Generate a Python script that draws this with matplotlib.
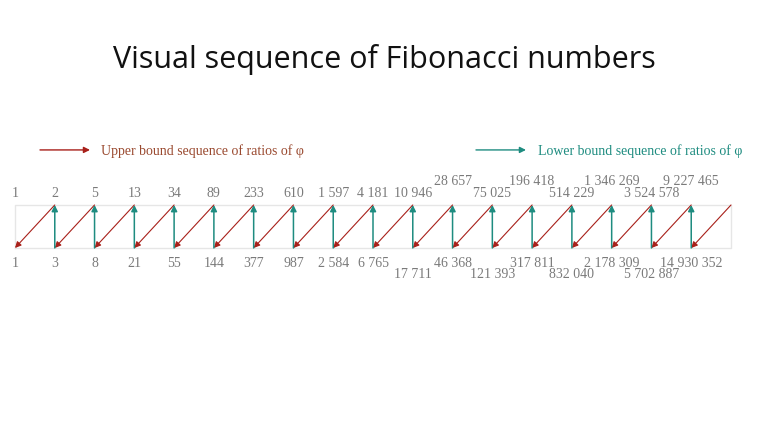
import matplotlib
matplotlib.use("Agg")
import matplotlib.pyplot as plt

top_labels = ["1", "2", "5", "13", "34", "89", "233", "610", "1 597", "4 181",
              "10 946", "28 657", "75 025", "196 418", "514 229", "1 346 269",
              "3 524 578", "9 227 465"]
bottom_labels = ["1", "3", "8", "21", "55", "144", "377", "987", "2 584", "6 765",
                 "17 711", "46 368", "121 393", "317 811", "832 040", "2 178 309",
                 "5 702 887", "14 930 352"]
n_cols = 19  # columns 0..18, labels on 0..17

RED = "#a8201a"
TEAL = "#1e8c80"
GRAY = "#7a7a7a"

fig = plt.figure(figsize=(7.68, 4.27), dpi=100)
ax = fig.add_axes([0, 0, 1, 1])
ax.set_xlim(-0.377, 18.93)
ax.set_ylim(-4.14, 5.79)
ax.axis("off")

# light frame
ax.plot([0, n_cols - 1, n_cols - 1, 0, 0], [0, 0, 1, 1, 0], color="#e6e6e6", lw=1, zorder=1)

arrow_kw = dict(arrowstyle="-|>", mutation_scale=9, shrinkA=0, shrinkB=0)
for k in range(1, len(top_labels)):
    ax.annotate("", xy=(k, 1), xytext=(k, 0),
                arrowprops=dict(color=TEAL, lw=1.1, **arrow_kw), zorder=3)
for k in range(1, n_cols):
    ax.annotate("", xy=(k - 1, 0), xytext=(k, 1),
                arrowprops=dict(color=RED, lw=0.8, **arrow_kw), zorder=2)

font = dict(family="Liberation Serif", fontsize=10, color=GRAY, ha="center", va="center")
for i, lab in enumerate(top_labels):
    y = 1.58 if (i >= 11 and i % 2 == 1) else 1.30
    ax.text(i, y, lab, **font)
for i, lab in enumerate(bottom_labels):
    y = -0.60 if (i >= 10 and i % 2 == 0) else -0.33
    ax.text(i, y, lab, **font)

# legend
ax.annotate("", xy=(90 / 39.78 - 0.377, 2.28), xytext=(40 / 39.78 - 0.377, 2.28),
            arrowprops=dict(color=RED, lw=1.0, **arrow_kw))
ax.text(101 / 39.78 - 0.377, 2.28, "Upper bound sequence of ratios of φ",
        family="Liberation Serif", fontsize=10, color="#9a4a30", va="center")
ax.annotate("", xy=(526 / 39.78 - 0.377, 2.28), xytext=(476 / 39.78 - 0.377, 2.28),
            arrowprops=dict(color=TEAL, lw=1.0, **arrow_kw))
ax.text(538 / 39.78 - 0.377, 2.28, "Lower bound sequence of ratios of φ",
        family="Liberation Serif", fontsize=10, color=TEAL, va="center")

fig.text(0.5, 1 - 60 / 427, "Visual sequence of Fibonacci numbers",
         ha="center", va="center", fontsize=22, family="Open Sans", color="#111111")

fig.savefig("out.png", dpi=100, facecolor="white")
